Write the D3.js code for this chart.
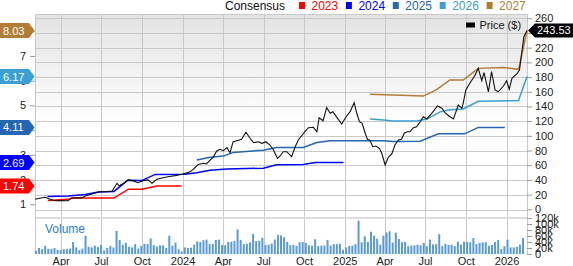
<!DOCTYPE html>
<html>
<head>
<meta charset="utf-8">
<script src="https://cdn.jsdelivr.net/npm/d3@7"></script>
<style>
body { margin: 0; background: #fff; }
text { font-family: "Liberation Sans", Arial, sans-serif; }
</style>
</head>
<body>
<script>
const parse = d3.timeParse("%Y-%m-%d")

// share price (right axis, $)
const priceDates = ["2023-02-01","2023-02-12","2023-02-24","2023-03-07","2023-03-18","2023-03-29","2023-04-16","2023-04-25","2023-05-02","2023-05-18","2023-05-25","2023-06-10","2023-06-28","2023-07-13","2023-07-25","2023-08-05","2023-08-10","2023-08-16","2023-08-23","2023-08-30","2023-09-10","2023-09-21","2023-10-03","2023-10-14","2023-10-23","2023-11-03","2023-11-17","2023-11-28","2023-12-14","2023-12-30",
  "2024-01-17","2024-01-24","2024-02-04","2024-02-16","2024-02-23","2024-03-02","2024-03-09","2024-03-17","2024-03-24","2024-04-01","2024-04-09","2024-04-16","2024-04-23","2024-05-01","2024-05-12","2024-05-22","2024-05-31","2024-06-08","2024-06-19","2024-06-27","2024-07-06","2024-07-15","2024-07-23","2024-08-01","2024-08-07","2024-08-14","2024-08-22","2024-09-02","2024-09-10","2024-09-17","2024-10-02","2024-10-10","2024-10-21","2024-10-29","2024-11-03","2024-11-12","2024-11-20","2024-11-28","2024-12-04","2024-12-13","2024-12-24",
  "2025-01-04","2025-01-12","2025-01-21","2025-01-27","2025-02-02","2025-02-08","2025-02-15","2025-02-20","2025-02-26","2025-03-04","2025-03-11","2025-03-19","2025-03-24","2025-04-01","2025-04-08","2025-04-16","2025-04-23","2025-05-01","2025-05-08","2025-05-14","2025-05-21","2025-05-27","2025-06-04","2025-06-11","2025-06-19","2025-06-26","2025-07-04","2025-07-15","2025-07-28","2025-08-07","2025-08-14","2025-08-25","2025-09-02","2025-09-13","2025-09-21","2025-09-24","2025-09-30","2025-10-09","2025-10-21","2025-10-28","2025-11-05","2025-11-10","2025-11-20","2025-11-27","2025-12-05","2025-12-12","2025-12-24","2025-12-31",
  "2026-01-06","2026-01-12","2026-01-23","2026-01-29","2026-02-03","2026-02-08","2026-02-15"]
const priceValues = [13.6,15,16.3,13.6,11.7,12,11.7,15,15.5,15.5,18,20.8,24,24,25,35.4,32,34,36.3,40,39,36.2,39,40,35.4,40.8,43,44.4,45.8,47.6,
  51,54.4,61,62.6,61.7,67,70.8,79.4,81.7,79.8,83.9,77,92,93.4,95.3,105,96.7,90.7,92,89.8,92,87.5,80.7,69.4,72.6,78.4,78.4,71.6,85.2,94.3,105.6,111,111.6,105.6,124.7,120.6,138.3,130.7,132.9,125.2,116.1,
  127,132.9,145.1,130.7,119.2,117,103.5,95.3,93.4,85.2,86.2,83,77,60.3,70.8,75.3,87.5,94.3,95.3,103.5,105.6,105.6,111,112.4,119.2,126,123,130.7,140.6,137.5,131.5,126,123,142,137.5,144.3,162.4,171.5,182.8,192,175,186,160,187.3,162.4,160,167.8,175,
  163.4,178.3,184.2,189.6,212.4,235,243.53]

// consensus EPS by fiscal year (left axis)
const eps2023Dates = ["2023-03-02","2023-04-16","2023-04-25","2023-07-29","2023-08-31","2023-09-30","2023-11-03","2023-12-29"]
const eps2023Values = [1.15,1.2,1.25,1.25,1.61,1.61,1.74,1.74]
const eps2024Dates = ["2023-03-01","2023-04-17","2023-05-25","2023-06-24","2023-07-29","2023-08-29","2023-09-30","2023-10-30","2024-01-05","2024-02-01","2024-03-02","2024-04-09","2024-06-30","2024-07-30","2024-09-28","2024-10-25","2024-12-28"]
const eps2024Values = [1.32,1.34,1.40,1.50,1.52,1.97,1.96,2.21,2.22,2.28,2.38,2.43,2.46,2.60,2.61,2.69,2.69]
const eps2025Dates = ["2024-02-01","2024-03-02","2024-04-01","2024-04-23","2024-06-30","2024-07-30","2024-09-28","2024-10-29","2024-11-28","2025-03-28","2025-04-19","2025-06-19","2025-07-30","2025-09-27","2025-10-28","2025-12-27"]
const eps2025Values = [2.79,2.90,2.95,3.10,3.19,3.30,3.30,3.50,3.57,3.57,3.54,3.55,3.85,3.85,4.11,4.11]
const eps2026Dates = ["2025-02-26","2025-03-28","2025-04-19","2025-06-11","2025-07-04","2025-08-03","2025-08-25","2025-09-24","2025-10-28","2026-01-27","2026-02-15"]
const eps2026Values = [4.45,4.41,4.37,4.37,4.45,4.74,4.83,4.86,5.17,5.20,6.17]
const eps2027Dates = ["2025-02-26","2025-06-26","2025-07-26","2025-08-25","2025-09-24","2025-10-28","2025-12-24","2026-01-27","2026-02-15"]
const eps2027Values = [5.45,5.38,5.64,6.03,6.03,6.50,6.54,6.46,8.03]

const years = ["2023","2024","2025","2026","2027"]
const yearColors = ["#ff0000","#0000ff","#2466b1","#3a9fd5","#b27c34"]

// weekly volume, thousands
const volumeStart = "2023-02-03"
const volumeValues = [11,20,16,27,17,17,20,14,13,16,17,18,40,22,13,18,61,24,22,
  28,23,31,12,20,27,22,77,47,31,37,24,22,33,18,27,34,33,52,30,25,
  29,29,20,61,28,38,16,9,22,20,21,31,42,40,46,48,33,34,47,48,30,
  29,40,41,44,82,47,33,34,39,67,43,44,54,30,31,35,
  48,64,62,56,40,29,30,27,39,40,37,29,28,49,26,28,
  28,47,28,33,33,34,14,22,27,28,33,111,39,59,40,74,61,51,31,61,
  72,76,38,71,50,39,40,26,28,29,31,29,37,26,48,32,33,66,26,34,
  30,31,26,41,31,41,40,39,53,33,37,39,39,28,30,40,47,16,26,48,
  22,22,24,31,53]

const epsSeries = [
  {dates: eps2023Dates, values: eps2023Values},
  {dates: eps2024Dates, values: eps2024Values},
  {dates: eps2025Dates, values: eps2025Values},
  {dates: eps2026Dates, values: eps2026Values},
  {dates: eps2027Dates, values: eps2027Values}
].map((s, i) => ({
  year: years[i],
  color: yearColors[i],
  points: s.dates.map((d, j) => ({date: parse(d), value: s.values[j]}))
}))
const pricePoints = priceDates.map((d, i) => ({date: parse(d), value: priceValues[i]}))
const volStart = parse(volumeStart)
const volumePoints = volumeValues.map((v, i) => ({date: d3.timeDay.offset(volStart, 7 * i), value: v}))

const W = 573, H = 266
const plotLeft = 35, plotRight = 527, plotTop = 14, priceBottom = 210, volBottom = 254

const svg = d3.select("body").append("svg").attr("width", W).attr("height", H)

const x = d3.scaleTime().domain([parse("2023-02-01"), parse("2026-02-15")]).range([plotLeft, plotRight])
const yPrice = d3.scaleLinear().domain([0, 260]).range([209.3, 18.3])
const yEps = d3.scaleLinear().domain([1, 8]).range([204.3, 31.3])
const yVol = d3.scaleLinear().domain([0, 120]).range([volBottom, 218])

// background gradient of price panel
const defs = svg.append("defs")
const grad = defs.append("linearGradient").attr("id", "bg").attr("x1", 0).attr("y1", 0).attr("x2", 0).attr("y2", 1)
grad.append("stop").attr("offset", "0%").attr("stop-color", "#e3e3e3")
grad.append("stop").attr("offset", "100%").attr("stop-color", "#ffffff")
svg.append("rect").attr("x", plotLeft).attr("y", plotTop).attr("width", plotRight - plotLeft).attr("height", 112)
  .attr("fill", "url(#bg)")

const gridColor = "#c9c9c9"
const grid = svg.append("g")
// horizontal price grid
grid.selectAll(".hg").data(d3.range(20, 261, 20)).enter().append("line")
  .attr("x1", plotLeft).attr("x2", plotRight)
  .attr("y1", d => Math.round(yPrice(d)) + 0.5).attr("y2", d => Math.round(yPrice(d)) + 0.5)
  .attr("stroke", gridColor)
// vertical quarter grid
const qTicks = x.ticks(d3.timeMonth.every(3))
grid.selectAll(".vg").data(qTicks).enter().append("line")
  .attr("x1", d => Math.round(x(d)) + 0.5).attr("x2", d => Math.round(x(d)) + 0.5)
  .attr("y1", plotTop).attr("y2", volBottom)
  .attr("stroke", gridColor)
// frame
grid.append("rect").attr("x", plotLeft + 0.5).attr("y", plotTop + 0.5).attr("width", plotRight - plotLeft).attr("height", priceBottom - plotTop)
  .attr("fill", "none").attr("stroke", gridColor)
grid.append("rect").attr("x", plotLeft).attr("y", 217).attr("width", plotRight - plotLeft).attr("height", 2).attr("fill", "#dcdcdc")
grid.append("line").attr("x1", plotLeft + 0.5).attr("x2", plotLeft + 0.5).attr("y1", plotTop).attr("y2", volBottom).attr("stroke", gridColor)
grid.append("line").attr("x1", plotRight + 0.5).attr("x2", plotRight + 0.5).attr("y1", plotTop).attr("y2", volBottom).attr("stroke", gridColor)

// volume bars
svg.append("g").selectAll("rect").data(volumePoints).enter().append("rect")
  .attr("x", d => x(d.date) - 1).attr("width", 2)
  .attr("y", d => yVol(d.value)).attr("height", d => volBottom - yVol(d.value))
  .attr("fill", "#5b9bd5")
svg.append("text").attr("x", 45).attr("y", 233).attr("font-size", 12).attr("fill", "#2a7fc6").text("Volume")

// EPS lines
const epsLine = d3.line().x(d => x(d.date)).y(d => yEps(d.value))
svg.append("g").selectAll("path").data(epsSeries).enter().append("path")
  .attr("d", d => epsLine(d.points))
  .attr("fill", "none").attr("stroke", d => d.color).attr("stroke-width", 1.5)

// price line
const priceLine = d3.line().x(d => x(d.date)).y(d => yPrice(d.value))
svg.append("path").datum(pricePoints).attr("d", priceLine)
  .attr("fill", "none").attr("stroke", "#111").attr("stroke-width", 1.1)

// axes
function styleAxis(g) {
  g.select(".domain").remove()
  g.selectAll(".tick line").attr("stroke", "#999")
  g.selectAll(".tick text").attr("font-size", 11).attr("fill", "#222")
    .attr("font-family", "Liberation Sans, Arial, sans-serif")
}
svg.append("g").attr("transform", `translate(${plotLeft},0)`)
  .call(d3.axisLeft(yEps).tickValues(d3.range(1, 9)).tickSize(5).tickPadding(4).tickFormat(d3.format("d")))
  .call(styleAxis)
svg.append("g").attr("transform", `translate(${plotRight},0)`)
  .call(d3.axisRight(yPrice).tickValues(d3.range(0, 261, 20)).tickSize(5).tickPadding(3))
  .call(styleAxis)
svg.append("g").attr("transform", `translate(${plotRight},0)`)
  .call(d3.axisRight(yVol).tickValues(d3.range(0, 121, 20)).tickSize(5).tickPadding(3)
    .tickFormat(d => d === 0 ? "0" : d + "k"))
  .call(styleAxis)

const fmtTick = d => d.getMonth() === 0 ? d3.timeFormat("%Y")(d) : d3.timeFormat("%b")(d)
svg.append("g").selectAll("text").data(qTicks).enter().append("text")
  .attr("x", d => x(d)).attr("y", 264.5).attr("text-anchor", "middle")
  .attr("font-size", 11).attr("fill", "#222").text(fmtTick)

// left value flags
const flags = svg.append("g").selectAll("g").data(epsSeries).enter().append("g")
flags.append("path")
  .attr("d", d => {
    const c = yEps(d.points[d.points.length - 1].value)
    return `M0,${c - 7.5}H29L34.5,${c}L29,${c + 7.5}H0Z`
  })
  .attr("fill", d => d.color)
flags.append("text")
  .attr("x", 3).attr("y", d => yEps(d.points[d.points.length - 1].value) + 4)
  .attr("font-size", 11).attr("fill", "#fff")
  .text(d => d3.format(".2f")(d.points[d.points.length - 1].value))

// right price flag
const lastPrice = pricePoints[pricePoints.length - 1].value
const pc = yPrice(lastPrice)
svg.append("path").attr("d", `M528,${pc}L535,${pc - 7}H573V${pc + 7}H535Z`).attr("fill", "#000")
svg.append("text").attr("x", 537).attr("y", pc + 4).attr("font-size", 11).attr("fill", "#fff")
  .text(d3.format(".2f")(lastPrice))

// top legend
svg.append("text").attr("x", 225).attr("y", 10).attr("font-size", 12).attr("fill", "#111").text("Consensus")
const leg = svg.append("g").selectAll("g").data(epsSeries).enter().append("g")
  .attr("transform", (d, i) => `translate(${299 + i * 46.9},0)`)
leg.append("rect").attr("x", 0).attr("y", 2).attr("width", 6).attr("height", 7).attr("fill", d => d.color)
leg.append("text").attr("x", 12.5).attr("y", 10).attr("font-size", 12).attr("fill", d => d.color).text(d => d.year)

// price legend
svg.append("rect").attr("x", 466).attr("y", 22.5).attr("width", 9).attr("height", 5).attr("fill", "#000")
svg.append("text").attr("x", 479.5).attr("y", 29).attr("font-size", 11).attr("fill", "#111").text("Price ($)")
</script>
</body>
</html>
